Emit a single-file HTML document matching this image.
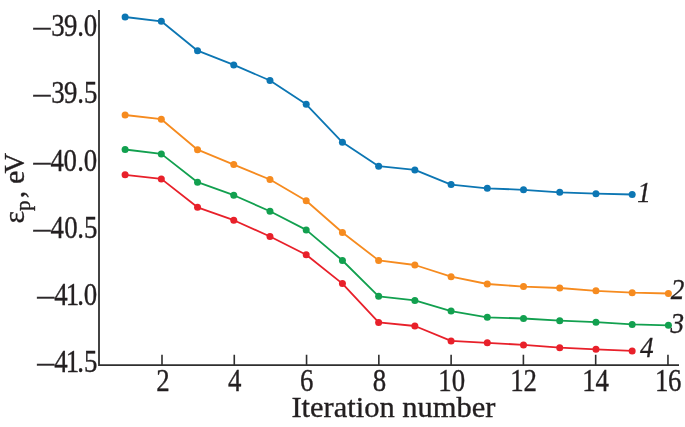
<!DOCTYPE html>
<html><head><meta charset="utf-8"><style>
html,body{margin:0;padding:0;background:#fff;}
svg{display:block;}
text{font-family:"Liberation Serif","Times New Roman",serif;fill:#231f20;stroke:#231f20;stroke-width:0.35px;}
</style></head><body>
<svg width="685" height="427" viewBox="0 0 685 427">

<path d="M99,10 V365.2 H679" fill="none" stroke="#2f2f2f" stroke-width="1.8"/>
<path d="M162.00,354.8 V365.2 M234.28,354.8 V365.2 M306.56,354.8 V365.2 M378.84,354.8 V365.2 M451.12,354.8 V365.2 M523.40,354.8 V365.2 M595.68,354.8 V365.2 M667.96,354.8 V365.2" stroke="#2f2f2f" stroke-width="1.6"/>
<polyline points="125.10,17.00 161.32,21.30 197.54,50.70 233.76,64.90 269.98,80.50 306.20,104.30 342.42,142.30 378.64,166.20 414.86,169.90 451.07,184.60 487.29,188.30 523.51,189.80 559.73,192.30 595.95,193.70 632.17,194.50" fill="none" stroke="#0c76b3" stroke-width="1.8" stroke-linejoin="round"/>
<circle cx="125.10" cy="17.00" r="3.5" fill="#0c76b3"/>
<circle cx="161.32" cy="21.30" r="3.5" fill="#0c76b3"/>
<circle cx="197.54" cy="50.70" r="3.5" fill="#0c76b3"/>
<circle cx="233.76" cy="64.90" r="3.5" fill="#0c76b3"/>
<circle cx="269.98" cy="80.50" r="3.5" fill="#0c76b3"/>
<circle cx="306.20" cy="104.30" r="3.5" fill="#0c76b3"/>
<circle cx="342.42" cy="142.30" r="3.5" fill="#0c76b3"/>
<circle cx="378.64" cy="166.20" r="3.5" fill="#0c76b3"/>
<circle cx="414.86" cy="169.90" r="3.5" fill="#0c76b3"/>
<circle cx="451.07" cy="184.60" r="3.5" fill="#0c76b3"/>
<circle cx="487.29" cy="188.30" r="3.5" fill="#0c76b3"/>
<circle cx="523.51" cy="189.80" r="3.5" fill="#0c76b3"/>
<circle cx="559.73" cy="192.30" r="3.5" fill="#0c76b3"/>
<circle cx="595.95" cy="193.70" r="3.5" fill="#0c76b3"/>
<circle cx="632.17" cy="194.50" r="3.5" fill="#0c76b3"/>
<polyline points="125.10,115.00 161.32,119.20 197.54,149.70 233.76,164.60 269.98,179.50 306.20,200.70 342.42,232.50 378.64,260.40 414.86,265.00 451.07,276.70 487.29,284.00 523.51,286.60 559.73,288.00 595.95,290.80 632.17,292.70 668.39,293.50" fill="none" stroke="#f68b1f" stroke-width="1.8" stroke-linejoin="round"/>
<circle cx="125.10" cy="115.00" r="3.5" fill="#f68b1f"/>
<circle cx="161.32" cy="119.20" r="3.5" fill="#f68b1f"/>
<circle cx="197.54" cy="149.70" r="3.5" fill="#f68b1f"/>
<circle cx="233.76" cy="164.60" r="3.5" fill="#f68b1f"/>
<circle cx="269.98" cy="179.50" r="3.5" fill="#f68b1f"/>
<circle cx="306.20" cy="200.70" r="3.5" fill="#f68b1f"/>
<circle cx="342.42" cy="232.50" r="3.5" fill="#f68b1f"/>
<circle cx="378.64" cy="260.40" r="3.5" fill="#f68b1f"/>
<circle cx="414.86" cy="265.00" r="3.5" fill="#f68b1f"/>
<circle cx="451.07" cy="276.70" r="3.5" fill="#f68b1f"/>
<circle cx="487.29" cy="284.00" r="3.5" fill="#f68b1f"/>
<circle cx="523.51" cy="286.60" r="3.5" fill="#f68b1f"/>
<circle cx="559.73" cy="288.00" r="3.5" fill="#f68b1f"/>
<circle cx="595.95" cy="290.80" r="3.5" fill="#f68b1f"/>
<circle cx="632.17" cy="292.70" r="3.5" fill="#f68b1f"/>
<circle cx="668.39" cy="293.50" r="3.5" fill="#f68b1f"/>
<polyline points="125.10,149.50 161.32,153.90 197.54,182.20 233.76,195.20 269.98,211.30 306.20,229.90 342.42,260.50 378.64,296.30 414.86,300.40 451.07,311.10 487.29,317.30 523.51,318.50 559.73,320.70 595.95,322.20 632.17,324.40 668.39,325.30" fill="none" stroke="#12a04f" stroke-width="1.8" stroke-linejoin="round"/>
<circle cx="125.10" cy="149.50" r="3.5" fill="#12a04f"/>
<circle cx="161.32" cy="153.90" r="3.5" fill="#12a04f"/>
<circle cx="197.54" cy="182.20" r="3.5" fill="#12a04f"/>
<circle cx="233.76" cy="195.20" r="3.5" fill="#12a04f"/>
<circle cx="269.98" cy="211.30" r="3.5" fill="#12a04f"/>
<circle cx="306.20" cy="229.90" r="3.5" fill="#12a04f"/>
<circle cx="342.42" cy="260.50" r="3.5" fill="#12a04f"/>
<circle cx="378.64" cy="296.30" r="3.5" fill="#12a04f"/>
<circle cx="414.86" cy="300.40" r="3.5" fill="#12a04f"/>
<circle cx="451.07" cy="311.10" r="3.5" fill="#12a04f"/>
<circle cx="487.29" cy="317.30" r="3.5" fill="#12a04f"/>
<circle cx="523.51" cy="318.50" r="3.5" fill="#12a04f"/>
<circle cx="559.73" cy="320.70" r="3.5" fill="#12a04f"/>
<circle cx="595.95" cy="322.20" r="3.5" fill="#12a04f"/>
<circle cx="632.17" cy="324.40" r="3.5" fill="#12a04f"/>
<circle cx="668.39" cy="325.30" r="3.5" fill="#12a04f"/>
<polyline points="125.10,174.85 161.32,178.90 197.54,207.30 233.76,220.20 269.98,236.50 306.20,254.80 342.42,283.60 378.64,322.40 414.86,326.00 451.07,340.90 487.29,342.80 523.51,344.90 559.73,347.70 595.95,349.30 632.17,350.90" fill="none" stroke="#e8202a" stroke-width="1.8" stroke-linejoin="round"/>
<circle cx="125.10" cy="174.85" r="3.5" fill="#e8202a"/>
<circle cx="161.32" cy="178.90" r="3.5" fill="#e8202a"/>
<circle cx="197.54" cy="207.30" r="3.5" fill="#e8202a"/>
<circle cx="233.76" cy="220.20" r="3.5" fill="#e8202a"/>
<circle cx="269.98" cy="236.50" r="3.5" fill="#e8202a"/>
<circle cx="306.20" cy="254.80" r="3.5" fill="#e8202a"/>
<circle cx="342.42" cy="283.60" r="3.5" fill="#e8202a"/>
<circle cx="378.64" cy="322.40" r="3.5" fill="#e8202a"/>
<circle cx="414.86" cy="326.00" r="3.5" fill="#e8202a"/>
<circle cx="451.07" cy="340.90" r="3.5" fill="#e8202a"/>
<circle cx="487.29" cy="342.80" r="3.5" fill="#e8202a"/>
<circle cx="523.51" cy="344.90" r="3.5" fill="#e8202a"/>
<circle cx="559.73" cy="347.70" r="3.5" fill="#e8202a"/>
<circle cx="595.95" cy="349.30" r="3.5" fill="#e8202a"/>
<circle cx="632.17" cy="350.90" r="3.5" fill="#e8202a"/>
<text><tspan x="31.39" y="39.16" font-size="30.5" textLength="20.92" lengthAdjust="spacingAndGlyphs">−</tspan><tspan x="51.18" y="35.90" font-size="30.5" textLength="13.42" lengthAdjust="spacingAndGlyphs">3</tspan><tspan x="64.12" y="35.90" font-size="30.5" textLength="13.42" lengthAdjust="spacingAndGlyphs">9</tspan><tspan x="77.16" y="35.90" font-size="30.5" textLength="6.71" lengthAdjust="spacingAndGlyphs">.</tspan><tspan x="83.70" y="35.90" font-size="30.5" textLength="13.42" lengthAdjust="spacingAndGlyphs">0</tspan></text>
<text><tspan x="31.39" y="106.06" font-size="30.5" textLength="20.92" lengthAdjust="spacingAndGlyphs">−</tspan><tspan x="51.18" y="103.30" font-size="30.5" textLength="13.42" lengthAdjust="spacingAndGlyphs">3</tspan><tspan x="64.12" y="103.30" font-size="30.5" textLength="13.42" lengthAdjust="spacingAndGlyphs">9</tspan><tspan x="77.16" y="103.30" font-size="30.5" textLength="6.71" lengthAdjust="spacingAndGlyphs">.</tspan><tspan x="84.05" y="103.30" font-size="30.5" textLength="13.42" lengthAdjust="spacingAndGlyphs">5</tspan></text>
<text><tspan x="31.29" y="173.66" font-size="30.5" textLength="20.92" lengthAdjust="spacingAndGlyphs">−</tspan><tspan x="50.50" y="170.90" font-size="30.5" textLength="13.42" lengthAdjust="spacingAndGlyphs">4</tspan><tspan x="63.60" y="170.90" font-size="30.5" textLength="13.42" lengthAdjust="spacingAndGlyphs">0</tspan><tspan x="77.16" y="170.90" font-size="30.5" textLength="6.71" lengthAdjust="spacingAndGlyphs">.</tspan><tspan x="83.70" y="170.90" font-size="30.5" textLength="13.42" lengthAdjust="spacingAndGlyphs">0</tspan></text>
<text><tspan x="31.29" y="240.96" font-size="30.5" textLength="20.92" lengthAdjust="spacingAndGlyphs">−</tspan><tspan x="50.50" y="238.10" font-size="30.5" textLength="13.42" lengthAdjust="spacingAndGlyphs">4</tspan><tspan x="64.30" y="238.10" font-size="30.5" textLength="13.42" lengthAdjust="spacingAndGlyphs">0</tspan><tspan x="77.16" y="238.10" font-size="30.5" textLength="6.71" lengthAdjust="spacingAndGlyphs">.</tspan><tspan x="84.05" y="238.10" font-size="30.5" textLength="13.42" lengthAdjust="spacingAndGlyphs">5</tspan></text>
<text><tspan x="35.04" y="308.36" font-size="30.5" textLength="20.92" lengthAdjust="spacingAndGlyphs">−</tspan><tspan x="54.35" y="304.60" font-size="30.5" textLength="13.42" lengthAdjust="spacingAndGlyphs">4</tspan><tspan x="65.83" y="304.60" font-size="30.5" textLength="13.42" lengthAdjust="spacingAndGlyphs">1</tspan><tspan x="77.16" y="304.60" font-size="30.5" textLength="6.71" lengthAdjust="spacingAndGlyphs">.</tspan><tspan x="83.70" y="304.60" font-size="30.5" textLength="13.42" lengthAdjust="spacingAndGlyphs">0</tspan></text>
<text><tspan x="35.04" y="375.06" font-size="30.5" textLength="20.92" lengthAdjust="spacingAndGlyphs">−</tspan><tspan x="54.35" y="372.30" font-size="30.5" textLength="13.42" lengthAdjust="spacingAndGlyphs">4</tspan><tspan x="65.83" y="372.30" font-size="30.5" textLength="13.42" lengthAdjust="spacingAndGlyphs">1</tspan><tspan x="77.16" y="372.30" font-size="30.5" textLength="6.71" lengthAdjust="spacingAndGlyphs">.</tspan><tspan x="84.05" y="372.30" font-size="30.5" textLength="13.42" lengthAdjust="spacingAndGlyphs">5</tspan></text>
<text><tspan x="156.25" y="390.50" font-size="30.5" textLength="13.42" lengthAdjust="spacingAndGlyphs">2</tspan></text>
<text><tspan x="227.90" y="390.50" font-size="30.5" textLength="13.42" lengthAdjust="spacingAndGlyphs">4</tspan></text>
<text><tspan x="299.93" y="390.50" font-size="30.5" textLength="13.42" lengthAdjust="spacingAndGlyphs">6</tspan></text>
<text><tspan x="372.85" y="390.50" font-size="30.5" textLength="13.42" lengthAdjust="spacingAndGlyphs">8</tspan></text>
<text><tspan x="438.33" y="390.50" font-size="30.5" textLength="13.42" lengthAdjust="spacingAndGlyphs">1</tspan><tspan x="451.65" y="390.50" font-size="30.5" textLength="13.42" lengthAdjust="spacingAndGlyphs">0</tspan></text>
<text><tspan x="510.23" y="390.50" font-size="30.5" textLength="13.42" lengthAdjust="spacingAndGlyphs">1</tspan><tspan x="523.60" y="390.50" font-size="30.5" textLength="13.42" lengthAdjust="spacingAndGlyphs">2</tspan></text>
<text><tspan x="582.23" y="390.50" font-size="30.5" textLength="13.42" lengthAdjust="spacingAndGlyphs">1</tspan><tspan x="595.55" y="390.50" font-size="30.5" textLength="13.42" lengthAdjust="spacingAndGlyphs">4</tspan></text>
<text><tspan x="655.03" y="390.50" font-size="30.5" textLength="13.42" lengthAdjust="spacingAndGlyphs">1</tspan><tspan x="667.88" y="390.50" font-size="30.5" textLength="13.42" lengthAdjust="spacingAndGlyphs">6</tspan></text>
<text font-style="italic"><tspan x="637.26" y="202.00" font-size="29.5" textLength="13.57" lengthAdjust="spacingAndGlyphs">1</tspan></text>
<text font-style="italic"><tspan x="670.81" y="299.30" font-size="29.5" textLength="13.57" lengthAdjust="spacingAndGlyphs">2</tspan></text>
<text font-style="italic"><tspan x="670.42" y="332.80" font-size="29.5" textLength="13.57" lengthAdjust="spacingAndGlyphs">3</tspan></text>
<text font-style="italic"><tspan x="639.90" y="357.20" font-size="29.5" textLength="13.57" lengthAdjust="spacingAndGlyphs">4</tspan></text>
<text x="291.4" y="417.0" font-size="29.7" textLength="204.1" lengthAdjust="spacingAndGlyphs">Iteration number</text>
<g transform="translate(24.2,225) rotate(-90)"><text><tspan x="1.43" y="0" font-size="30">&#949;</tspan><tspan x="13.9" y="6.1" font-size="21">p</tspan><tspan x="26.8" y="0" font-size="30">, </tspan><tspan x="41.0" y="0" font-size="30">e</tspan><tspan x="51.6" y="0" font-size="30" textLength="20.6" lengthAdjust="spacingAndGlyphs">V</tspan></text></g>
</svg></body></html>
